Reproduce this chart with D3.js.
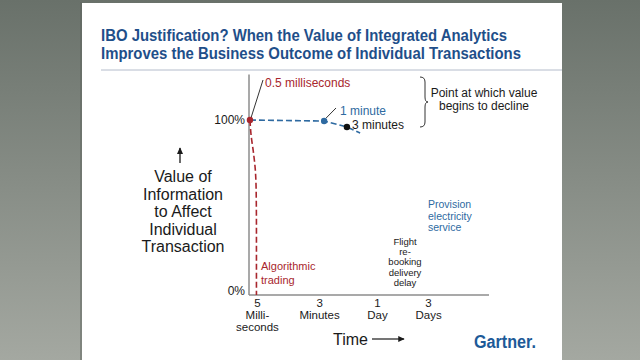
<!DOCTYPE html>
<html>
<head>
<meta charset="utf-8">
<script src="https://cdn.jsdelivr.net/npm/d3@7"></script>
<style>
	html, body { margin: 0; padding: 0; }
	body { width: 640px; height: 360px; overflow: hidden; }
	text { font-family: "Liberation Sans", Arial, sans-serif; }
</style>
</head>
<body>
<div id="vizHolder"></div>
<script>
// title lines
var titleLines = ['IBO Justification? When the Value of Integrated Analytics',
	'Improves the Business Outcome of Individual Transactions'];

// x positions are on a relative 0-100 "time" track
var xTickPos = [3.3, 29.2, 53.3, 74.6];
var xTickLabels = [['5', 'Milli-', 'seconds'], ['3', 'Minutes'], ['1', 'Day'], ['3', 'Days']];
var yTicks = [0, 100];
var yLabel = ['Value of', 'Information', 'to Affect', 'Individual', 'Transaction'];

// series: [x, value %]
var algoCurve = [[0.4, 100], [0.9, 91], [1.8, 82], [2.6, 72], [3.0, 58], [3.1, 37], [3.1, 0]];
var declineLine = [[0.4, 100], [31.3, 99.4], [40.8, 96], [46.3, 92.6]];
var keyPoints = [[0.4, 100], [31.3, 99.4], [40.8, 96]];
var pointColors = ['#a8262d', '#2e6aa1', '#111'];

var red = '#a8262d', blue = '#2e6aa1', dark = '#1a1a1a';

var width = 640, height = 360;
var svg = d3.select('#vizHolder').append('svg')
	.attr('width', width)
	.attr('height', height);

// backdrop
var defs = svg.append('defs');
var grad = defs.append('linearGradient').attr('id', 'bg')
	.attr('x1', 0).attr('y1', 0).attr('x2', 0).attr('y2', 1);
grad.append('stop').attr('offset', '0%').attr('stop-color', '#69716a');
grad.append('stop').attr('offset', '100%').attr('stop-color', '#a4a8a1');
svg.append('rect').attr('width', width).attr('height', height).attr('fill', 'url(#bg)');
svg.append('rect').attr('x', 80).attr('y', 2).attr('width', 2).attr('height', 358).attr('fill', '#5e645d').attr('opacity', 0.5);
svg.append('rect').attr('x', 82).attr('y', 3).attr('width', 480).attr('height', 357).attr('fill', '#fff');

// title
svg.selectAll('.title').data(titleLines).enter().append('text')
	.attr('class', 'title')
	.attr('x', 101)
	.attr('y', function(d, i) { return 41 + i * 17.5; })
	.attr('textLength', function(d, i) { return i == 0 ? 406 : 420; })
	.attr('lengthAdjust', 'spacingAndGlyphs')
	.attr('font-size', 17)
	.attr('font-weight', 'bold')
	.attr('fill', '#1f4f8a')
	.text(function(d) { return d; });
svg.append('line').attr('x1', 101).attr('x2', 562).attr('y1', 70).attr('y2', 70)
	.attr('stroke', '#b4bccb').attr('stroke-width', 1);

// scales
var x = d3.scaleLinear().domain([0, 100]).range([249, 489]);
var y = d3.scaleLinear().domain([0, 100]).range([295, 120]);

// axes
svg.append('line')
	.attr('x1', x(0)).attr('x2', x(0)).attr('y1', y(126)).attr('y2', y(0))
	.attr('stroke', '#8c8c8c').attr('stroke-width', 1.5);
svg.append('line')
	.attr('x1', x(0)).attr('x2', x(100)).attr('y1', y(0)).attr('y2', y(0))
	.attr('stroke', '#8c8c8c').attr('stroke-width', 1.5);

var yAxis = svg.append('g')
	.attr('transform', 'translate(' + (x(0) - 2) + ',0)')
	.call(d3.axisLeft(y).tickValues(yTicks).tickSize(0).tickPadding(2)
		.tickFormat(function(d) { return d + '%'; }));
yAxis.select('.domain').remove();
yAxis.selectAll('text')
	.attr('font-size', 12).attr('fill', dark)
	.attr('font-family', '"Liberation Sans", Arial, sans-serif')
	.attr('dy', function(d) { return d == 0 ? '-0.05em' : '0.32em'; });

var xAxis = svg.append('g')
	.attr('transform', 'translate(0,' + y(0) + ')')
	.call(d3.axisBottom(x).tickValues(xTickPos).tickSize(0).tickFormat(''));
xAxis.select('.domain').remove();
xAxis.selectAll('.tick').each(function(d, i) {
	var t = d3.select(this).append('text')
		.attr('fill', dark)
		.attr('font-size', 11.5)
		.attr('text-anchor', 'middle');
	t.selectAll('tspan').data(xTickLabels[i]).enter().append('tspan')
		.attr('x', 0)
		.attr('y', function(s, j) { return 12 + j * 12; })
		.text(function(s) { return s; });
});

// y axis title + arrow
var yl = svg.append('text').attr('font-size', 16).attr('fill', dark).attr('text-anchor', 'middle');
yl.selectAll('tspan').data(yLabel).enter().append('tspan')
	.attr('x', 183)
	.attr('y', function(d, i) { return 182 + i * 17.5; })
	.text(function(d) { return d; });
defs.append('marker').attr('id', 'arr')
	.attr('viewBox', '0 0 10 10').attr('refX', 8).attr('refY', 5)
	.attr('markerWidth', 6).attr('markerHeight', 6).attr('orient', 'auto')
	.append('path').attr('d', 'M0,1 L9,5 L0,9 Z').attr('fill', dark);
svg.append('line').attr('x1', 180).attr('x2', 180).attr('y1', 163).attr('y2', 148)
	.attr('stroke', dark).attr('stroke-width', 1.3).attr('marker-end', 'url(#arr)');

// x axis title + arrow
svg.append('text').attr('x', 333).attr('y', 345).attr('font-size', 16).attr('fill', dark).text('Time');
svg.append('line').attr('x1', 372).attr('x2', 404).attr('y1', 339).attr('y2', 339)
	.attr('stroke', dark).attr('stroke-width', 1.2).attr('marker-end', 'url(#arr)');

// series
var line = d3.line()
	.x(function(d) { return x(d[0]); })
	.y(function(d) { return y(d[1]); });

svg.append('path')
	.datum(algoCurve)
	.attr('d', line.curve(d3.curveMonotoneY))
	.attr('fill', 'none').attr('stroke', red).attr('stroke-width', 1.6)
	.attr('stroke-dasharray', '6,3');

svg.append('path')
	.datum(declineLine)
	.attr('d', d3.line().x(function(d) { return x(d[0]); }).y(function(d) { return y(d[1]); }))
	.attr('fill', 'none').attr('stroke', blue).attr('stroke-width', 1.6)
	.attr('stroke-dasharray', '6,3');

// leaders
svg.append('line').attr('x1', x(keyPoints[0][0]) + 1).attr('y1', y(keyPoints[0][1]) - 2)
	.attr('x2', 263).attr('y2', 80).attr('stroke', '#333').attr('stroke-width', 1);
svg.append('line').attr('x1', x(keyPoints[1][0]) + 2).attr('y1', y(keyPoints[1][1]) - 3)
	.attr('x2', 336).attr('y2', 108).attr('stroke', '#333').attr('stroke-width', 1);

svg.selectAll('.pt').data(keyPoints).enter().append('circle')
	.attr('class', 'pt')
	.attr('cx', function(d) { return x(d[0]); })
	.attr('cy', function(d) { return y(d[1]); })
	.attr('r', 3.2)
	.attr('fill', function(d, i) { return pointColors[i]; });

// annotations
svg.append('text').attr('x', 265).attr('y', 87).attr('font-size', 12).attr('fill', red).text('0.5 milliseconds');
svg.append('text').attr('x', 340).attr('y', 115).attr('font-size', 12).attr('fill', blue).text('1 minute');
svg.append('text').attr('x', 352).attr('y', 129).attr('font-size', 12).attr('fill', dark).text('3 minutes');

svg.append('path')
	.attr('d', 'M420,77 Q425,77 425,82 L425,97 Q425,102 428,102 Q425,102 425,107 L425,122 Q425,127 420,127')
	.attr('fill', 'none').attr('stroke', '#333').attr('stroke-width', 1);
var pt = svg.append('text').attr('font-size', 12).attr('fill', dark).attr('text-anchor', 'middle');
pt.selectAll('tspan').data(['Point at which value', 'begins to decline']).enter().append('tspan')
	.attr('x', 484).attr('y', function(d, i) { return 97 + i * 12.5; })
	.text(function(d) { return d; });

var alg = svg.append('text').attr('font-size', 11).attr('fill', red);
alg.selectAll('tspan').data(['Algorithmic', 'trading']).enter().append('tspan')
	.attr('x', 261).attr('y', function(d, i) { return 270 + i * 13.5; })
	.text(function(d) { return d; });

var fl = svg.append('text').attr('font-size', 9.5).attr('fill', dark).attr('text-anchor', 'middle');
fl.selectAll('tspan').data(['Flight', 're-', 'booking', 'delivery', 'delay']).enter().append('tspan')
	.attr('x', 405).attr('y', function(d, i) { return 245 + i * 10.2; })
	.text(function(d) { return d; });

var pv = svg.append('text').attr('font-size', 10.5).attr('fill', blue);
pv.selectAll('tspan').data(['Provision', 'electricity', 'service']).enter().append('tspan')
	.attr('x', 428).attr('y', function(d, i) { return 208 + i * 11.5; })
	.text(function(d) { return d; });

// logo
svg.append('text').attr('x', 474).attr('y', 348).attr('font-size', 18).attr('font-weight', 'bold')
	.attr('fill', '#1d5a98').attr('textLength', 62).attr('lengthAdjust', 'spacingAndGlyphs')
	.text('Gartner.');
</script>
</body>
</html>
